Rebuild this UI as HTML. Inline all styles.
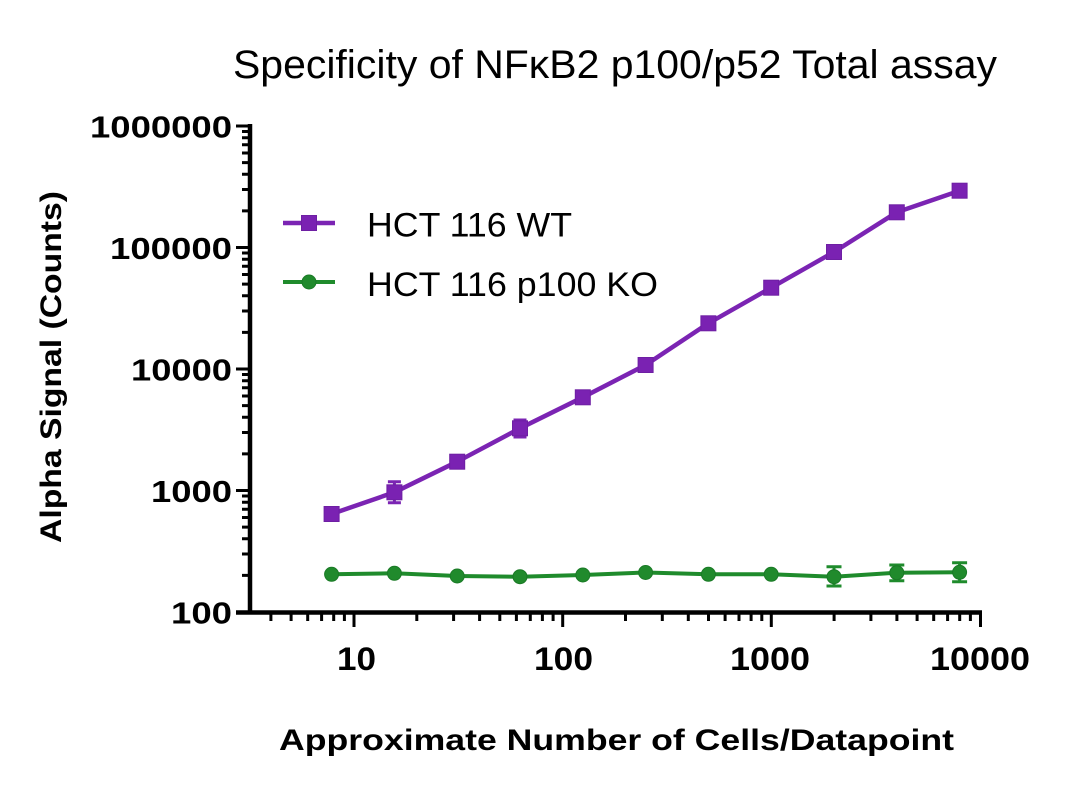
<!DOCTYPE html>
<html>
<head>
<meta charset="utf-8">
<style>
  html, body { margin: 0; padding: 0; background: #ffffff; }
  svg { display: block; }
  text { font-family: "Liberation Sans", "DejaVu Sans", sans-serif; fill: #000; }
</style>
</head>
<body>
<svg width="1080" height="795" viewBox="0 0 1080 795" xmlns="http://www.w3.org/2000/svg">
  <rect width="1080" height="795" fill="#ffffff"/>

  <!-- Title -->
  <text x="233" y="78" font-size="40" textLength="764" lengthAdjust="spacingAndGlyphs">Specificity of NFκB2 p100/p52 Total assay</text>

  <!-- Axes -->
  <g stroke="#000" stroke-width="4.5" fill="none" stroke-linecap="butt">
    <line x1="250" y1="124" x2="250" y2="614.5"/>
    <line x1="236" y1="612.5" x2="982" y2="612.5"/>
  </g>

  <!-- Y ticks -->
  <g stroke="#000" stroke-width="3" fill="none">
    <!-- major -->
    <path d="M236 126H250 M236 247.5H250 M236 369H250 M236 490.5H250"/>
    <!-- minor -->
    <path d="
      M242 575.4H250 M242 554H250 M242 538.8H250 M242 527.1H250 M242 517.5H250 M242 509.3H250 M242 502.3H250 M242 496H250
      M242 453.9H250 M242 432.5H250 M242 417.3H250 M242 405.6H250 M242 396H250 M242 387.8H250 M242 380.8H250 M242 374.5H250
      M242 332.4H250 M242 311H250 M242 295.8H250 M242 284.1H250 M242 274.5H250 M242 266.3H250 M242 259.3H250 M242 253H250
      M242 210.9H250 M242 189.5H250 M242 174.3H250 M242 162.6H250 M242 153H250 M242 144.8H250 M242 137.8H250 M242 131.5H250"/>
  </g>

  <!-- X ticks -->
  <g stroke="#000" stroke-width="3" fill="none">
    <path d="M354 612V627 M562.7 612V627 M771.3 612V627 M980.5 612V627"/>
    <path d="
      M270.9 612V621 M291.1 612V621 M307.7 612V621 M321.6 612V621 M333.7 612V621 M344.4 612V621
      M416.8 612V621 M453.6 612V621 M479.6 612V621 M499.8 612V621 M516.4 612V621 M530.3 612V621 M542.4 612V621 M553.1 612V621
      M625.5 612V621 M662.3 612V621 M688.3 612V621 M708.5 612V621 M725.1 612V621 M739 612V621 M751.1 612V621 M761.8 612V621
      M834.1 612V621 M870.9 612V621 M896.9 612V621 M917.1 612V621 M933.7 612V621 M947.6 612V621 M959.7 612V621 M970.4 612V621"/>
  </g>

  <!-- Y tick labels -->
  <g font-size="31" font-weight="bold" text-anchor="end">
    <text x="232" y="137.5" textLength="142" lengthAdjust="spacingAndGlyphs">1000000</text>
    <text x="232" y="259" textLength="122" lengthAdjust="spacingAndGlyphs">100000</text>
    <text x="232" y="380.5" textLength="101" lengthAdjust="spacingAndGlyphs">10000</text>
    <text x="232" y="502" textLength="81" lengthAdjust="spacingAndGlyphs">1000</text>
    <text x="232" y="623.5" textLength="61" lengthAdjust="spacingAndGlyphs">100</text>
  </g>

  <!-- X tick labels -->
  <g font-size="32" font-weight="bold">
    <text x="337" y="670" textLength="39" lengthAdjust="spacingAndGlyphs">10</text>
    <text x="534" y="670" textLength="59" lengthAdjust="spacingAndGlyphs">100</text>
    <text x="730" y="670" textLength="80" lengthAdjust="spacingAndGlyphs">1000</text>
    <text x="930" y="670" textLength="100" lengthAdjust="spacingAndGlyphs">10000</text>
  </g>

  <!-- Axis titles -->
  <text x="279" y="750" font-size="30" font-weight="bold" textLength="675" lengthAdjust="spacingAndGlyphs">Approximate Number of Cells/Datapoint</text>
  <text transform="translate(61,543) rotate(-90)" x="0" y="0" font-size="30" font-weight="bold" textLength="352" lengthAdjust="spacingAndGlyphs">Alpha Signal (Counts)</text>

  <!-- Purple series: HCT 116 WT -->
  <g>
    <polyline fill="none" stroke="#7b24b3" stroke-width="4.5" stroke-linejoin="round"
      points="331.6,514 394.4,492.3 457.2,461.7 520,428.3 582.8,397.3 645.6,365 708.4,323.3 771.2,287.7 834,252 896.8,212.3 959.6,190.7"/>
    <!-- error bars -->
    <g stroke="#7b24b3" stroke-width="3" fill="none">
      <path d="M394.4 481.7V502.7 M387.9 481.7H400.9 M387.9 502.7H400.9"/>
      <path d="M520 420V437 M513.5 420H526.5 M513.5 437H526.5"/>
    </g>
    <g fill="#7a22b2" stroke="#6e1fa3" stroke-width="1">
      <rect x="324.1" y="506.5" width="15" height="15"/>
      <rect x="386.9" y="484.8" width="15" height="15"/>
      <rect x="449.7" y="454.2" width="15" height="15"/>
      <rect x="512.5" y="420.8" width="15" height="15"/>
      <rect x="575.3" y="389.8" width="15" height="15"/>
      <rect x="638.1" y="357.5" width="15" height="15"/>
      <rect x="700.9" y="315.8" width="15" height="15"/>
      <rect x="763.7" y="280.2" width="15" height="15"/>
      <rect x="826.5" y="244.5" width="15" height="15"/>
      <rect x="889.3" y="204.8" width="15" height="15"/>
      <rect x="952.1" y="183.2" width="15" height="15"/>
    </g>
  </g>

  <!-- Green series: HCT 116 p100 KO -->
  <g>
    <polyline fill="none" stroke="#1f8b2c" stroke-width="4" stroke-linejoin="round"
      points="331.6,574.3 394.4,573.3 457.2,576 520,576.7 582.8,575 645.6,572.5 708.4,574.3 771.2,574.3 834,576.7 896.8,572.7 959.6,572.3"/>
    <g stroke="#1f8b2c" stroke-width="3" fill="none">
      <path d="M834 566.7V586 M826.5 566.7H841.5 M826.5 586H841.5"/>
      <path d="M896.8 565V580.7 M889.3 565H904.3 M889.3 580.7H904.3"/>
      <path d="M959.6 562.7V581.7 M952.1 562.7H967.1 M952.1 581.7H967.1"/>
    </g>
    <g fill="#208a2c" stroke="#1a7a26" stroke-width="1">
      <circle cx="331.6" cy="574.3" r="7"/>
      <circle cx="394.4" cy="573.3" r="7"/>
      <circle cx="457.2" cy="576" r="7"/>
      <circle cx="520" cy="576.7" r="7"/>
      <circle cx="582.8" cy="575" r="7"/>
      <circle cx="645.6" cy="572.5" r="7"/>
      <circle cx="708.4" cy="574.3" r="7"/>
      <circle cx="771.2" cy="574.3" r="7"/>
      <circle cx="834" cy="576.7" r="7"/>
      <circle cx="896.8" cy="572.7" r="7"/>
      <circle cx="959.6" cy="572.3" r="7"/>
    </g>
  </g>

  <!-- Legend -->
  <g>
    <line x1="283" y1="223" x2="335" y2="223" stroke="#7b24b3" stroke-width="4.5"/>
    <rect x="301.5" y="215.5" width="15" height="15" fill="#7a22b2" stroke="#6e1fa3" stroke-width="1"/>
    <text x="367" y="236.5" font-size="34" textLength="205" lengthAdjust="spacingAndGlyphs">HCT 116 WT</text>

    <line x1="283" y1="282" x2="335" y2="282" stroke="#1f8b2c" stroke-width="4"/>
    <circle cx="309" cy="282" r="7" fill="#208a2c" stroke="#1a7a26" stroke-width="1"/>
    <text x="367" y="296" font-size="34" textLength="291" lengthAdjust="spacingAndGlyphs">HCT 116 p100 KO</text>
  </g>
</svg>
</body>
</html>
